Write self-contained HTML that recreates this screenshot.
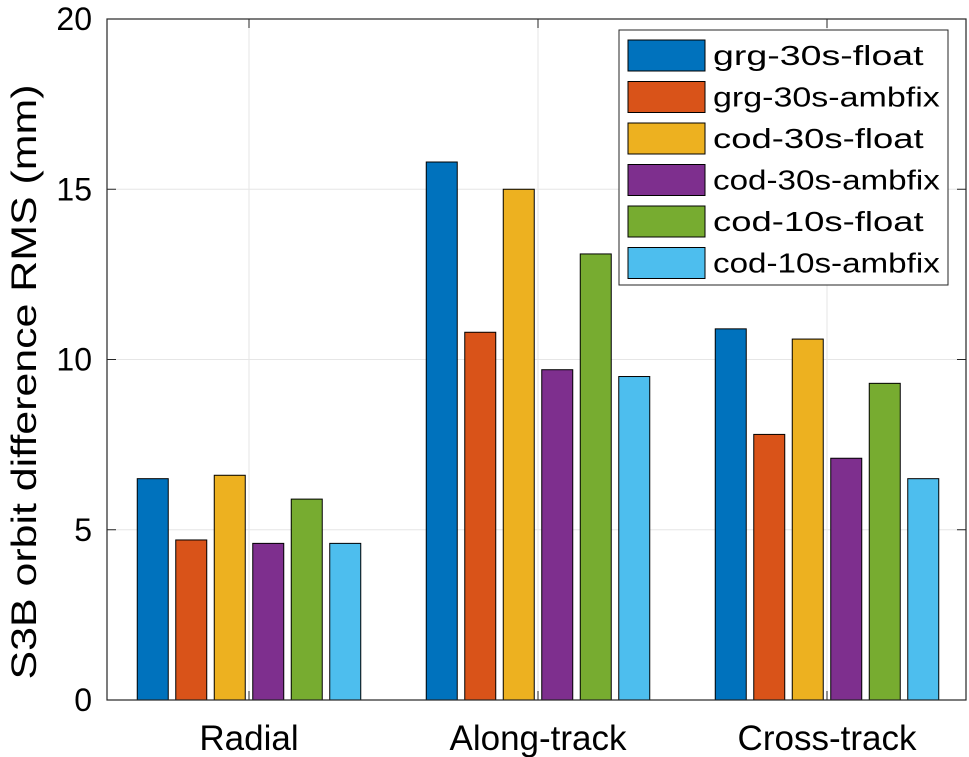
<!DOCTYPE html>
<html><head><meta charset="utf-8"><style>
html,body{margin:0;padding:0;background:#fff;}
svg{display:block;font-family:"Liberation Sans",Arial,sans-serif;}
</style></head><body>
<svg id="chart" width="969" height="757" viewBox="0 0 969 757" xmlns="http://www.w3.org/2000/svg"></svg>
<script>
const categories = ["Radial","Along-track","Cross-track"];
const seriesNames = ["grg-30s-float","grg-30s-ambfix","cod-30s-float","cod-30s-ambfix","cod-10s-float","cod-10s-ambfix"];
const grg30sFloat = [6.5,15.8,10.9];
const grg30sAmbfix = [4.7,10.8,7.8];
const cod30sFloat = [6.6,15.0,10.6];
const cod30sAmbfix = [4.6,9.7,7.1];
const cod10sFloat = [5.9,13.1,9.3];
const cod10sAmbfix = [4.6,9.5,6.5];
const yTicks = [0,5,10,15,20];
const seriesValues = [grg30sFloat,grg30sAmbfix,cod30sFloat,cod30sAmbfix,cod10sFloat,cod10sAmbfix];
const colors = ["#0072BD","#D95319","#EDB120","#7E2F8E","#77AC30","#4DBEEE"];

const NS="http://www.w3.org/2000/svg";
const svg=document.getElementById('chart');
const L=107,R=966,T=19,B=700;
const y=v=>B-(v-0)/(20-0)*(B-T);
const groupW=289, c0=249;
const x=i=>c0+groupW*i;
function mk(tag,attrs,parent){const e=document.createElementNS(NS,tag);for(const k in attrs)e.setAttribute(k,attrs[k]);(parent||svg).appendChild(e);return e;}

yTicks.forEach(t=>{
  const g=mk('line',{x1:L,x2:R,y1:y(t),y2:y(t),stroke:'#e6e6e6','stroke-width':1});
  
  
});
categories.forEach((c,i)=>{
  const g=mk('line',{x1:x(i),x2:x(i),y1:T,y2:B,stroke:'#e6e6e6','stroke-width':1});
  
  
});
const barW=31, step=38.5;
seriesValues.forEach((vals,s)=>{
  vals.forEach((v,i)=>{
    const cx=x(i)+(s-2.5)*step;
    const r=mk('rect',{x:cx-barW/2,y:y(v),width:barW,height:y(0)-y(v),fill:colors[s],stroke:'#000','stroke-width':1});
    
    
  });
});
const box=mk('rect',{x:L,y:T,width:R-L,height:B-T,fill:'none',stroke:'#262626','stroke-width':1.2});


yTicks.forEach(t=>{
  mk('line',{x1:L,x2:L+9,y1:y(t),y2:y(t),stroke:'#262626'});
  mk('line',{x1:R,x2:R-9,y1:y(t),y2:y(t),stroke:'#262626'});
  const tx=mk('text',{x:92,y:y(t)+11,'text-anchor':'end','font-size':32,fill:'#000'});
  tx.textContent=t;
  
  
});
categories.forEach((c,i)=>{
  mk('line',{x1:x(i),x2:x(i),y1:B,y2:B-9,stroke:'#262626'});
  mk('line',{x1:x(i),x2:x(i),y1:T,y2:T+9,stroke:'#262626'});
  const tx=mk('text',{x:x(i),y:750,'text-anchor':'middle','font-size':35,fill:'#000'});
  tx.textContent=c;
  
  
});
const yt=mk('text',{x:0,y:0,transform:'translate(36,382) rotate(-90)','text-anchor':'middle','font-size':35,fill:'#000',textLength:595,lengthAdjust:'spacingAndGlyphs'});
yt.textContent='S3B orbit difference RMS (mm)';


const lg=mk('g',{});


mk('rect',{x:619,y:30,width:329,height:255,fill:'#fff',stroke:'#262626','stroke-width':1},lg);
seriesNames.forEach((n,s)=>{
  const ey=40+s*41.5;
  const e=mk('g',{},lg);
  
  
  mk('rect',{x:628,y:ey,width:77,height:31,fill:colors[s],stroke:'#000','stroke-width':1},e);
  const t=mk('text',{x:713,y:ey+25,'font-size':28,fill:'#000',lengthAdjust:'spacingAndGlyphs'},e);
  t.textContent=n;
  t.setAttribute('textLength',n.length*16.2);
});
</script>
</body></html>
